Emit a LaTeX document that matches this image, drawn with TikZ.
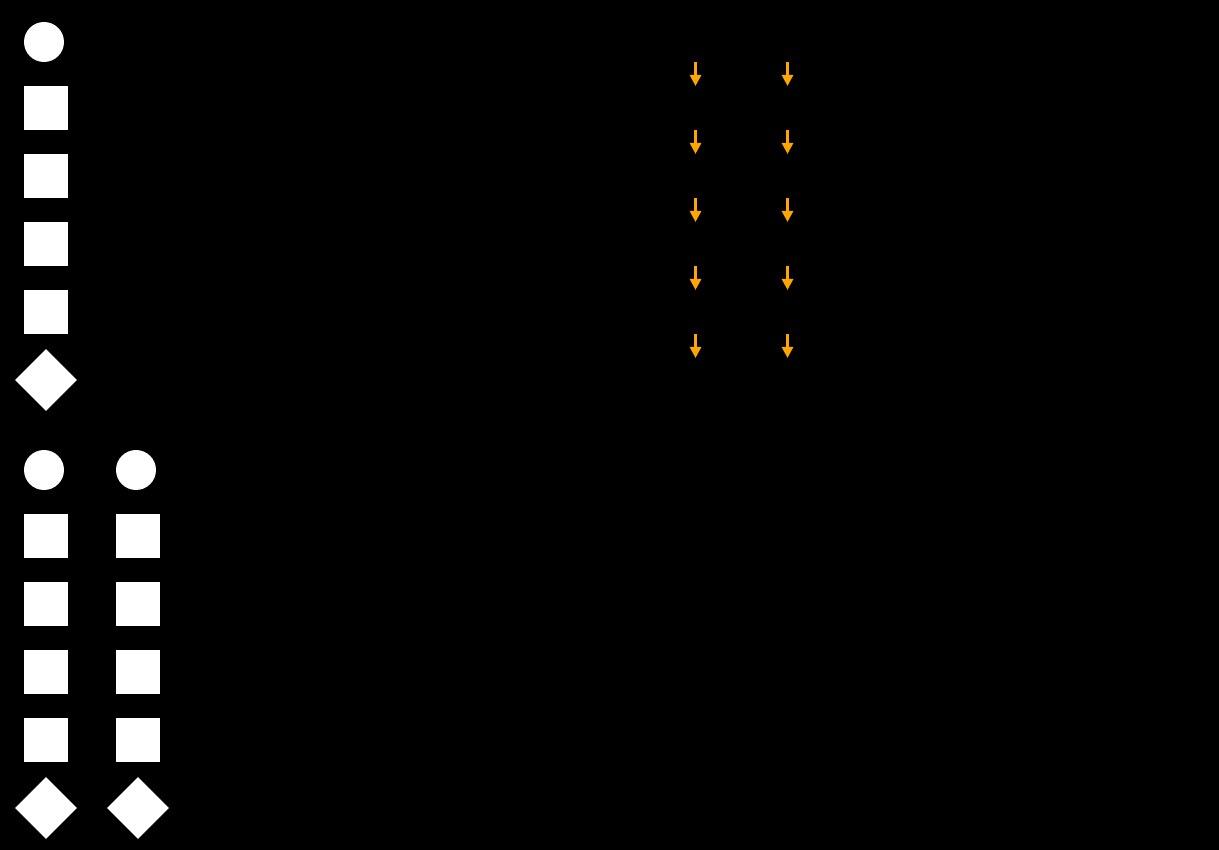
\documentclass[tikz,border=0pt]{standalone}
\usetikzlibrary{shapes.geometric,arrows.meta}
\definecolor{arroworange}{RGB}{255,165,0}
\tikzset{
  dot/.style={circle,fill=white,draw=none,inner sep=0pt,minimum size=40pt},
  sqbox/.style={rectangle,fill=white,draw=none,inner sep=0pt,minimum size=44pt},
  dmd/.style={diamond,fill=white,draw=none,inner sep=0pt,minimum size=62pt},
  flowarrow/.style={draw=arroworange,line width=3pt,-{Triangle[length=11pt,width=11pt]}}
}
\begin{document}
\begin{tikzpicture}[x=1pt,y=-1pt]
\fill[black] (0,0) rectangle (1219,850);
\useasboundingbox (0,0) rectangle (1219,850);
% top column
\node[dot] (a0) at (44,42) {};
\node[sqbox] (a1) at (46,108) {};
\node[sqbox] (a2) at (46,176) {};
\node[sqbox] (a3) at (46,244) {};
\node[sqbox] (a4) at (46,312) {};
\node[dmd] (a5) at (46,380) {};
% bottom left column
\node[dot] (b0) at (44,470) {};
\node[sqbox] (b1) at (46,536) {};
\node[sqbox] (b2) at (46,604) {};
\node[sqbox] (b3) at (46,672) {};
\node[sqbox] (b4) at (46,740) {};
\node[dmd] (b5) at (46,808) {};
% bottom right column
\node[dot] (c0) at (136,470) {};
\node[sqbox] (c1) at (138,536) {};
\node[sqbox] (c2) at (138,604) {};
\node[sqbox] (c3) at (138,672) {};
\node[sqbox] (c4) at (138,740) {};
\node[dmd] (c5) at (138,808) {};
% arrows
\foreach \i/\y in {1/62,2/130,3/198,4/266,5/334}{
  \coordinate (ps\i) at (695.5,\y);
  \coordinate (pe\i) at (695.5,\y+24);
  \coordinate (qs\i) at (787.5,\y);
  \coordinate (qe\i) at (787.5,\y+24);
  \draw[flowarrow] (ps\i) -- (pe\i);
  \draw[flowarrow] (qs\i) -- (qe\i);
}
\end{tikzpicture}
\end{document}
